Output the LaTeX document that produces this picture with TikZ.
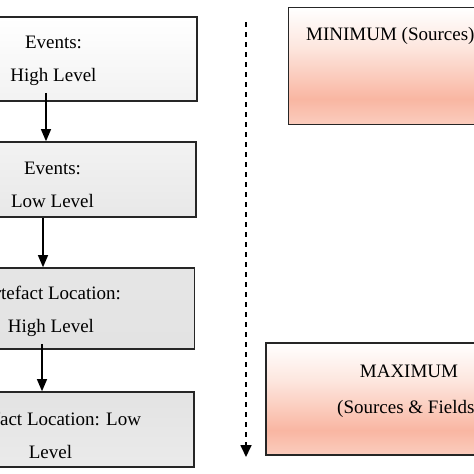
\documentclass[tikz,border=0pt]{standalone}
\usepackage{fontspec}
\setmainfont{Liberation Serif}
\usepackage{tikz}
\usepackage{xcolor}
\usetikzlibrary{positioning,arrows.meta}

\definecolor{salmonedge}{HTML}{FBCDBE}
\definecolor{salmonmid}{HTML}{F9B6A2}
\definecolor{salmonpale}{HTML}{FDE6DE}
\pgfdeclareverticalshading{salmonfade}{100bp}{color(0bp)=(salmonedge); color(25bp)=(salmonedge); color(36bp)=(salmonmid); color(58bp)=(salmonpale); color(75bp)=(white); color(100bp)=(white)}

\begin{document}
\begin{tikzpicture}[x=1pt,y=-1pt]
\tikzstyle{every node}+=[inner sep=0pt]
\tikzstyle{level}=[draw=black!85, line width=1.6pt, minimum width=287pt]
\tikzstyle{leveltext}=[align=center, font=\fontsize{19}{33}\selectfont]
\tikzstyle{amount}=[draw=black!85, line width=1.4pt, shading=salmonfade]
\tikzstyle{flow}=[line width=1.2pt, -{Triangle[width=10pt,length=12pt]}]
\tikzstyle{scalearrow}=[line width=1.7pt, dash pattern=on 5pt off 5pt, -{Triangle[width=11pt,length=12pt]}]
\clip (0,0) rectangle (474,474);
\fill[white] (0,0) rectangle (474,474);
% left column
\node[level, minimum height=84pt, top color=white, bottom color=black!5] (evhigh) at (53.5,59) {};
\node[level, minimum height=75pt, top color=black!5, bottom color=black!9] (evlow) at (52.5,179.5) {};
\node[level, minimum height=81pt, top color=black!10, bottom color=black!11] (arthigh) at (51,308.5) {};
\node[level, minimum height=75pt, top color=black!11, bottom color=black!8] (artlow) at (50.5,429.5) {};
\node[leveltext] (evhigh-t) at ([yshift=-2pt]evhigh) {Events:\\High Level};
\node[leveltext] (evlow-t) at ([yshift=-5pt]evlow) {Events:\\Low Level};
\node[leveltext] (arthigh-t) at ([yshift=-2.5pt]arthigh) {Artefact Location:\\High Level};
\node[leveltext] (artlow-t) at ([yshift=-5.5pt]artlow) {Artefact Location: Low\\Level};
\draw[flow] ([xshift=-7.5pt,yshift=9pt]evhigh.south) -- ([xshift=-6.5pt]evlow.north);
\draw[flow] ([xshift=-9.5pt]evlow.south) -- ([xshift=-8pt]arthigh.north);
\draw[flow] ([xshift=-9pt,yshift=6pt]arthigh.south) -- ([xshift=-8.5pt]artlow.north);
% scale
\coordinate (scaletop) at (246,22);
\coordinate (scalebot) at (246,457);
\draw[scalearrow] (scaletop) -- (scalebot);
% right column
\node[amount, anchor=north west, minimum width=320pt, minimum height=117pt] (minbox) at (288,7) {};
\node[anchor=west, font=\fontsize{19}{22}\selectfont] (mintext) at (306,36) {MINIMUM (Sources)};
\node[amount, minimum width=286pt, minimum height=112pt] (maxbox) at (409,399) {};
\node[leveltext, font=\fontsize{19}{36}\selectfont] (maxtext) at ([yshift=8pt]maxbox) {MAXIMUM\\(Sources \& Fields)};
\end{tikzpicture}
\end{document}
